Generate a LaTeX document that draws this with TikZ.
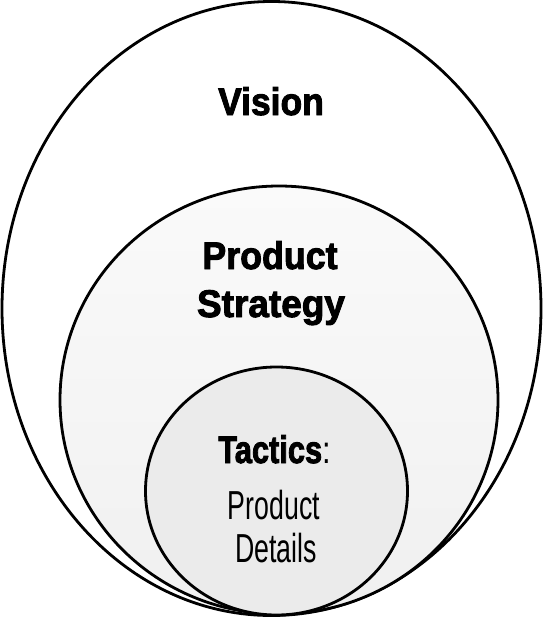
\documentclass[tikz,border=0pt]{standalone}
\usepackage{fontspec}
\setmainfont{Liberation Sans}
\newfontfamily\heavy{Liberation Sans Bold}[FakeBold=2.5]
\definecolor{midtop}{HTML}{FAFAFA}
\definecolor{midbot}{HTML}{F0F0F0}
\definecolor{innerfill}{HTML}{EBEBEB}
\begin{document}
\begin{tikzpicture}[x=1pt,y=-1pt,
  ring/.style={draw=black,line width=2.8pt},
  boldlbl/.style={anchor=base,inner sep=0pt,font=\fontsize{38.5}{38.5}\selectfont\heavy\bfseries},
  reglbl/.style={anchor=base,inner sep=0pt,font=\fontsize{40.5}{40.5}\selectfont}]
\useasboundingbox (0,0) rectangle (544,618);
\fill[white] (0,0) rectangle (544,618);
% outer ellipse
\draw[ring,fill=white] (271.5,308.5) ellipse [x radius=269.5, y radius=307];
% middle ellipse
\draw[ring,top color=midtop,bottom color=midbot] (279,400) ellipse [x radius=219, y radius=214];
% inner ellipse
\draw[ring,fill=innerfill] (276.5,491) ellipse [x radius=131, y radius=124];
% labels
\node[boldlbl] (vision) at (271,115) {\scalebox{0.92}[1]{Vision}};
\node[boldlbl] (prod) at (270,269) {\scalebox{0.93}[1]{Product}};
\node[boldlbl] (strat) at (271,317) {\scalebox{0.96}[1]{Strategy}};
\node[anchor=base,inner sep=0pt] (tact) at (274.5,463) {\scalebox{0.8}[1]{\fontsize{38.5}{38.5}\selectfont{\heavy\bfseries Tactics}:}};
\node[reglbl] (pd) at (274,519) {\scalebox{0.66}[1]{Product}};
\node[reglbl] (det) at (276,562) {\scalebox{0.66}[1]{Details}};
\end{tikzpicture}
\end{document}
